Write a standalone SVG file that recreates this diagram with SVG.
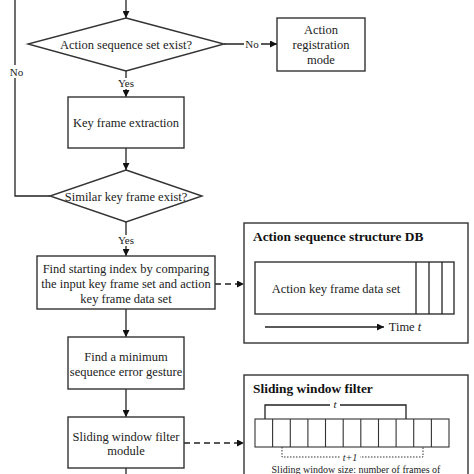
<svg xmlns="http://www.w3.org/2000/svg" width="474" height="474" viewBox="0 0 474 474">
<defs>
<marker id="ah" viewBox="0 0 10 10" refX="10" refY="5" markerWidth="7" markerHeight="7" markerUnits="userSpaceOnUse" orient="auto">
<path d="M0,0 L10,5 L0,10 z" fill="#111"/>
</marker>
<style>
.box{fill:#fff;stroke:#333;stroke-width:1.4}
.ln{fill:none;stroke:#222;stroke-width:1.3}
.dash{fill:none;stroke:#222;stroke-width:1.3;stroke-dasharray:6 4}
.t{font-family:"Liberation Serif","Times New Roman",serif;font-size:12.5px;fill:#222;text-anchor:middle}
.s{font-family:"Liberation Serif","Times New Roman",serif;font-size:11px;fill:#222;text-anchor:middle}
.b{font-family:"Liberation Serif","Times New Roman",serif;font-size:13.4px;font-weight:bold;fill:#111}
.i{font-style:italic}
</style>
</defs>
<rect width="474" height="474" fill="#fff"/>
<g id="connectors">
<line class="ln" x1="126" y1="0" x2="126" y2="18" marker-end="url(#ah)"/>
<polyline class="ln" points="15,0 15,196 50,196"/>
<rect x="8" y="65" width="17" height="13" fill="#fff"/>
<text class="s" x="16.5" y="76">No</text>
<line class="ln" x1="224" y1="44" x2="277" y2="44" marker-end="url(#ah)"/>
<rect x="244" y="38" width="17" height="12" fill="#fff"/>
<text class="s" x="252" y="48">No</text>
<line class="ln" x1="126" y1="71" x2="126" y2="97" marker-end="url(#ah)"/>
<rect x="116" y="78" width="20" height="11" fill="#fff"/>
<text class="s" x="126" y="87">Yes</text>
<line class="ln" x1="126" y1="148" x2="126" y2="170" marker-end="url(#ah)"/>
<line class="ln" x1="126" y1="222" x2="126" y2="256" marker-end="url(#ah)"/>
<rect x="116" y="235" width="20" height="11" fill="#fff"/>
<text class="s" x="126" y="244">Yes</text>
<line class="ln" x1="126" y1="309" x2="126" y2="337" marker-end="url(#ah)"/>
<line class="ln" x1="126" y1="389" x2="126" y2="417" marker-end="url(#ah)"/>
<line class="ln" x1="126" y1="468" x2="126" y2="474"/>
<line class="dash" x1="215" y1="284" x2="244" y2="284" marker-end="url(#ah)"/>
<line class="dash" x1="184" y1="443" x2="244" y2="443" marker-end="url(#ah)"/>
</g>
<g id="d1">
<polygon class="box" points="126,18 224,44 126,71 28,44"/>
<text class="t" x="126" y="48.5">Action sequence set exist?</text>
</g>
<g id="reg">
<rect class="box" x="277" y="18" width="88" height="53"/>
<text class="t" x="321" y="34">Action</text>
<text class="t" x="321" y="49">registration</text>
<text class="t" x="321" y="64">mode</text>
</g>
<g id="kfe">
<rect class="box" x="68" y="97" width="116" height="51"/>
<text class="t" x="126" y="127">Key frame extraction</text>
</g>
<g id="d2">
<polygon class="box" points="126,170 202,196 126,222 50,196"/>
<text class="t" x="126" y="200.5">Similar key frame exist?</text>
</g>
<g id="fsi">
<rect class="box" x="37" y="256" width="178" height="53"/>
<text class="t" x="126" y="273">Find starting index by comparing</text>
<text class="t" x="126" y="288">the input key frame set and action</text>
<text class="t" x="126" y="303">key frame data set</text>
</g>
<g id="fmin">
<rect class="box" x="68" y="337" width="116" height="52"/>
<text class="t" x="126" y="361">Find a minimum</text>
<text class="t" x="126" y="376">sequence error gesture</text>
</g>
<g id="swm">
<rect class="box" x="68" y="417" width="116" height="51"/>
<text class="t" x="126" y="441">Sliding window filter</text>
<text class="t" x="126" y="455">module</text>
</g>
<g id="db">
<rect class="box" x="244" y="223" width="224" height="120"/>
<text class="b" x="253" y="241">Action sequence structure DB</text>
<rect class="box" x="255" y="262" width="199" height="52" stroke-width="1.1"/>
<line class="ln" x1="416" y1="262" x2="416" y2="314" stroke-width="1.1"/>
<line class="ln" x1="429" y1="262" x2="429" y2="314" stroke-width="1.1"/>
<line class="ln" x1="442" y1="262" x2="442" y2="314" stroke-width="1.1"/>
<text class="t" x="336" y="293">Action key frame data set</text>
<line class="ln" x1="265" y1="327" x2="384" y2="327" marker-end="url(#ah)"/>
<text class="t" x="405" y="331">Time <tspan class="i">t</tspan></text>
</g>
<g id="swf">
<rect class="box" x="244" y="375" width="224" height="110"/>
<text class="b" x="253" y="393">Sliding window filter</text>
<polyline class="ln" points="265,419 265,405 406,405 406,419" stroke-width="1.1"/>
<rect x="330" y="399" width="10" height="11" fill="#fff"/>
<text class="s i" x="335" y="408">t</text>
<g fill="#fff" stroke="#333" stroke-width="1.1">
<rect x="255" y="419" width="194" height="28"/>
<line x1="272.6" y1="419" x2="272.6" y2="447"/>
<line x1="290.3" y1="419" x2="290.3" y2="447"/>
<line x1="307.9" y1="419" x2="307.9" y2="447"/>
<line x1="325.5" y1="419" x2="325.5" y2="447"/>
<line x1="343.2" y1="419" x2="343.2" y2="447"/>
<line x1="360.8" y1="419" x2="360.8" y2="447"/>
<line x1="378.5" y1="419" x2="378.5" y2="447"/>
<line x1="396.1" y1="419" x2="396.1" y2="447"/>
<line x1="413.7" y1="419" x2="413.7" y2="447"/>
<line x1="431.4" y1="419" x2="431.4" y2="447"/>
</g>
<polyline points="282,447 282,457 423,457 423,447" fill="none" stroke="#333" stroke-width="1" stroke-dasharray="1.5 1.5"/>
<rect x="340" y="452" width="20" height="10" fill="#fff"/>
<text class="s i" x="350" y="460.5" style="font-size:10px">t+1</text>
<text class="t" x="356" y="473" style="font-size:10px">Sliding window size: number of frames of</text>
</g>
</svg>
